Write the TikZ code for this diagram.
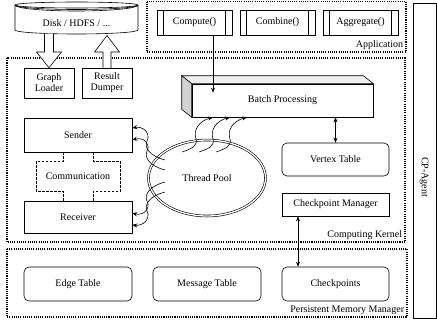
\documentclass[tikz,border=0pt]{standalone}
\usepackage{fontspec}
\setmainfont{Liberation Serif}
\usetikzlibrary{arrows.meta,shapes.geometric}
\begin{document}
\begin{tikzpicture}[x=1pt,y=-1pt,
  font=\fontsize{10}{12}\selectfont,
  line width=0.6pt,
  tip/.style={-{Stealth[length=5pt,width=4pt]}},
  dtip/.style={{Stealth[length=5pt,width=4pt]}-{Stealth[length=5pt,width=4pt]}},
  sqbox/.style={draw, fill=white, inner sep=1pt, align=center},
  rbox/.style={draw, fill=white, rounded corners=5pt, inner sep=1pt},
  procbox/.style={draw, fill=white, minimum width=75pt, minimum height=25pt, inner sep=1pt},
  dotbox/.style={line width=1.1pt, dash pattern=on 1.1pt off 1.1pt},
  dashbox/.style={dashed, dash pattern=on 2.5pt off 1.5pt},
  blockarrow/.style={draw, fill=white, line width=0.6pt},
  corner/.style={anchor=south east, inner sep=1.5pt}
]
\useasboundingbox (0,0) rectangle (437,322);
\fill[white] (0,0) rectangle (437,322);

% ---- containers
\draw[dotbox] (147,1.5) rectangle (406,52);
\node[corner] (applbl) at (405,51) {Application};
\draw[dotbox] (7,58) rectangle (405,242);
\node[corner] (cklbl) at (404,241.5) {Computing Kernel};
\draw[dotbox] (7,249) rectangle (407,317);
\node[corner] (pmlbl) at (406,316.5) {Persistent Memory Manager};

% ---- CP-Agent
\node[draw, minimum width=23pt, minimum height=315pt, inner sep=0pt] (cpagent) at (424.5,160.5) {};
\node[rotate=-90] (cplbl) at (424,177) {CP-Agent};

% ---- Disk cylinder
\draw[fill=white] (15,5) -- (15,30) arc[start angle=180, end angle=0, x radius=61.5, y radius=4] -- (138,5);
\draw[fill=white] (76.5,5) ellipse[x radius=61.5, y radius=3];
\draw (15,5) arc[start angle=180, end angle=0, x radius=61.5, y radius=4.5];
\draw (15,5) arc[start angle=180, end angle=0, x radius=61.5, y radius=6];
\node (disk) at (76.5,23) {Disk / HDFS / ...};

% ---- Graph Loader / Result Dumper
\node[sqbox, minimum width=50pt, minimum height=30pt] (loader) at (49,83) {Graph\\[-1pt]Loader};
\node[sqbox, minimum width=50pt, minimum height=30pt] (dumper) at (107,83) {Result\\[-1pt]Dumper};
\draw[blockarrow] (44.5,33.5) -- (44.5,52) -- (36.5,52) -- (loader.north) -- (61.5,52) -- (53.5,52) -- (53.5,33.5);
\draw[blockarrow] (dumper.north -| 103,0) -- (103,52) -- (94.5,52) -- (107,35.5) -- (119.5,52) -- (111,52) -- (111,68);

% ---- Application functions
\node[procbox] (compute) at (194.5,22.5) {Compute()};
\node[procbox] (combine) at (277.5,22.5) {Combine()};
\node[procbox] (aggregate) at (360.5,22.5) {Aggregate()};
\foreach \n in {compute,combine,aggregate}{
  \draw ([xshift=7pt]\n.north west) -- ([xshift=7pt]\n.south west);
  \draw ([xshift=-7pt]\n.north east) -- ([xshift=-7pt]\n.south east);
}

% ---- Batch processing 3D box
\node[draw, fill=white, minimum width=181pt, minimum height=33pt, inner sep=0pt] (batch) at (282.5,100.5) {Batch Processing};
\draw[fill=gray!12] (batch.north west) -- ++(-10,-8) -- ([shift={(-10,-8)}]batch.north east) -- (batch.north east) -- cycle;
\draw[fill=gray!35] (batch.north west) -- ++(-10,-8) -- ([shift={(-10,-8)}]batch.south west) -- (batch.south west) -- cycle;
\coordinate (cin) at (213,35);
\draw[tip] (compute.south -| cin) -- ([yshift=-9pt]batch.north -| cin);

% ---- Vertex table, checkpoint manager
\node[rbox, minimum width=107pt, minimum height=33pt] (vtable) at (335.5,159.5) {Vertex Table};
\node[sqbox, minimum width=107pt, minimum height=23pt] (cpman) at (335.5,204.5) {Checkpoint Manager};
\draw[dtip] (batch.south -| vtable.north) -- (vtable.north);

% ---- Sender / Receiver / Communication
\node[sqbox, minimum width=108pt, minimum height=34pt] (sender) at (78,135) {Sender};
\node[sqbox, minimum width=108pt, minimum height=32pt] (receiver) at (78,217) {Receiver};
\draw[dashbox] (63,152) -- (63,161) -- (36,161) -- (36,191) -- (63,191) -- (63,201);
\draw[dashbox] (93,152) -- (93,161) -- (120,161) -- (120,191) -- (93,191) -- (93,201);
\node (comm) at (78,176) {Communication};

% ---- Thread pool
\node[ellipse, draw, double, double distance=1.3pt, fill=white, minimum width=117pt, minimum height=76pt, inner sep=0pt] (pool) at (207,178) {Thread Pool};

% wavy arrows to sender / receiver
\coordinate (s1) at (133,128); \coordinate (s2) at (133,140);
\coordinate (r1) at (133,213); \coordinate (r2) at (133,225);
\draw[tip] (165,160) .. controls (150,156) and (144,148) .. (147,141) .. controls (151,133) and (143,126) .. (s1 -| sender.east);
\draw[tip] (165,170) .. controls (150,166) and (144,158) .. (147,151) .. controls (151,143) and (143,137) .. (s2 -| sender.east);
\draw[tip] (165,182) .. controls (150,186) and (144,194) .. (147,201) .. controls (151,209) and (143,216) .. (r1 -| receiver.east);
\draw[tip] (165,192) .. controls (150,196) and (144,204) .. (147,211) .. controls (151,219) and (143,226) .. (r2 -| receiver.east);

% wavy arrows to batch
\foreach \x/\e in {182/213,199/230,216/247}{
  \coordinate (b\e) at (\e,118);
  \draw[tip] (\x,152) .. controls (\x+9,149) and (\x+16,146) .. (\x+14,139) .. controls (\x+11,130) and (\x+17,121) .. (b\e |- batch.south);
}

% ---- Persistent memory
\node[rbox, minimum width=108pt, minimum height=34pt] (etable) at (78,284) {Edge Table};
\node[rbox, minimum width=108pt, minimum height=34pt] (mtable) at (207,284) {Message Table};
\node[rbox, minimum width=107pt, minimum height=34pt] (cpoints) at (335.5,284) {Checkpoints};
\coordinate (cpx) at (298,0);
\draw[dtip] (cpman.south -| cpx) -- (cpoints.north -| cpx);
\end{tikzpicture}
\end{document}
